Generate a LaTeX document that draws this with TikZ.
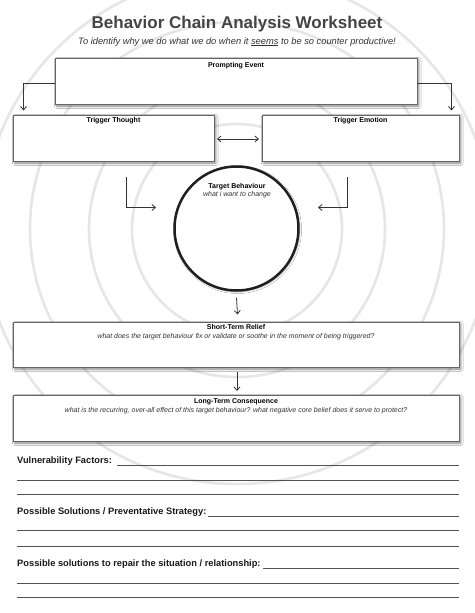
\documentclass[tikz,border=0pt]{standalone}
\usepackage{fontspec}
\setmainfont{Liberation Sans}
\usetikzlibrary{arrows.meta,shadows,shadows.blur}
\definecolor{ink}{HTML}{333333}
\definecolor{ttl}{HTML}{444444}
\definecolor{ring}{HTML}{E6E6E6}
\definecolor{frame}{HTML}{666666}
\tikzset{
  ringline/.style={draw=ring,line width=2.6pt},
  box/.style={draw=frame,line width=0.8pt,fill=white,inner sep=0pt,
    blur shadow={shadow xshift=1.8pt,shadow yshift=-2pt,shadow blur radius=2.4pt,shadow opacity=50}},
  boxtitle/.style={font=\fontsize{7}{8}\selectfont\bfseries,text=black,inner sep=0pt,anchor=base},
  boxsub/.style={font=\fontsize{7}{8}\selectfont\itshape,text=ink,inner sep=0pt,anchor=base},
  tip/.style={Straight Barb[length=3.5pt,width=6pt]},
  conn/.style={draw=ink,line width=0.8pt,-{Straight Barb[length=3.5pt,width=6pt]}},
  formlabel/.style={font=\fontsize{9.3}{11}\selectfont\bfseries,text=black!90,inner sep=0pt,anchor=base west},
  formline/.style={draw=black!68,line width=0.9pt}
}
\begin{document}
\begin{tikzpicture}[x=1pt,y=-1pt]
\useasboundingbox[fill=white] (0,0) rectangle (474,613);
% background rings
\coordinate (ctr) at (237,229);
\foreach \r in {105,148,207,255} \draw[ringline] (ctr) circle[radius=\r];
% title
\node[font=\fontsize{17}{20}\selectfont\bfseries,text=ttl,inner sep=0pt,anchor=base] (title) at (237,28) {Behavior Chain Analysis Worksheet};
\node[font=\fontsize{9.3}{11}\selectfont\itshape,text=ink,inner sep=0pt,anchor=base] (subtitle) at (237,44) {To identify why we do what we do when it \underline{seems} to be so counter productive!};
% boxes
\node[box,minimum width=362pt,minimum height=46pt] (pe) at (236,81) {};
\node[boxtitle] at (236,67) {Prompting Event};
\node[box,minimum width=201pt,minimum height=46pt] (tt) at (113.5,138) {};
\node[boxtitle] at (113.5,122.5) {Trigger Thought};
\node[box,minimum width=197pt,minimum height=46pt] (te) at (360.5,138) {};
\node[boxtitle] at (360.5,122.5) {Trigger Emotion};
% target circle
\node[circle,draw=black!88,line width=2.5pt,fill=white,minimum size=124pt,inner sep=0pt,
  blur shadow={shadow xshift=1pt,shadow yshift=-1pt,shadow blur radius=2pt,shadow opacity=35}] (tb) at (236.5,228.5) {};
\node[boxtitle] at (237,188) {Target Behaviour};
\node[boxsub] at (237,196.5) {what i want to change};
% lower boxes
\node[box,minimum width=446pt,minimum height=45pt] (str) at (236,344.5) {};
\node[boxtitle] at (236,329.5) {Short-Term Relief};
\node[boxsub] at (236,338) {what does the target behaviour fix or validate or soothe in the moment of being triggered?};
\node[box,minimum width=446pt,minimum height=46pt] (ltc) at (236,418) {};
\node[boxtitle] at (236,403.5) {Long-Term Consequence};
\node[boxsub] at (236,412) {what is the recurring, over-all effect of this target behaviour? what negative core belief does it serve to protect?};
% connectors
\coordinate (lpe) at (pe.west |- 0,83);
\coordinate (rpe) at (pe.east |- 0,83);
\draw[conn] (lpe) -| (23.5,110.5);
\draw[conn] (rpe) -| (451.5,110.5);
\draw[draw=ink,line width=0.8pt,{Straight Barb[length=3.5pt,width=6pt]}-{Straight Barb[length=3.5pt,width=6pt]}] (217,139) -- (259,139);
\coordinate (lt) at (126,177);
\coordinate (rt) at (347,177);
\draw[conn] (lt) |- (156,207.5);
\draw[conn] (rt) |- (318,207.5);
\draw[conn] (tb.south) ++(0,6) -- (237.5,314.5);
\draw[conn] (237,372) -- (237,391);
% form lines
\node[formlabel] (vf) at (17,463) {Vulnerability Factors:};
\draw[formline] (117,465) -- (459,465);
\draw[formline] (17,480) -- (459,480);
\draw[formline] (17,494.5) -- (459,494.5);
\node[formlabel] (ps) at (17,514) {Possible Solutions / Preventative Strategy:};
\draw[formline] (208,516) -- (459,516);
\draw[formline] (17,530.5) -- (459,530.5);
\draw[formline] (17,546.5) -- (459,546.5);
\node[formlabel] (rp) at (17,566) {Possible solutions to repair the situation / relationship:};
\draw[formline] (263,568) -- (459,568);
\draw[formline] (17,583) -- (459,583);
\draw[formline] (17,597.5) -- (459,597.5);
\end{tikzpicture}
\end{document}
